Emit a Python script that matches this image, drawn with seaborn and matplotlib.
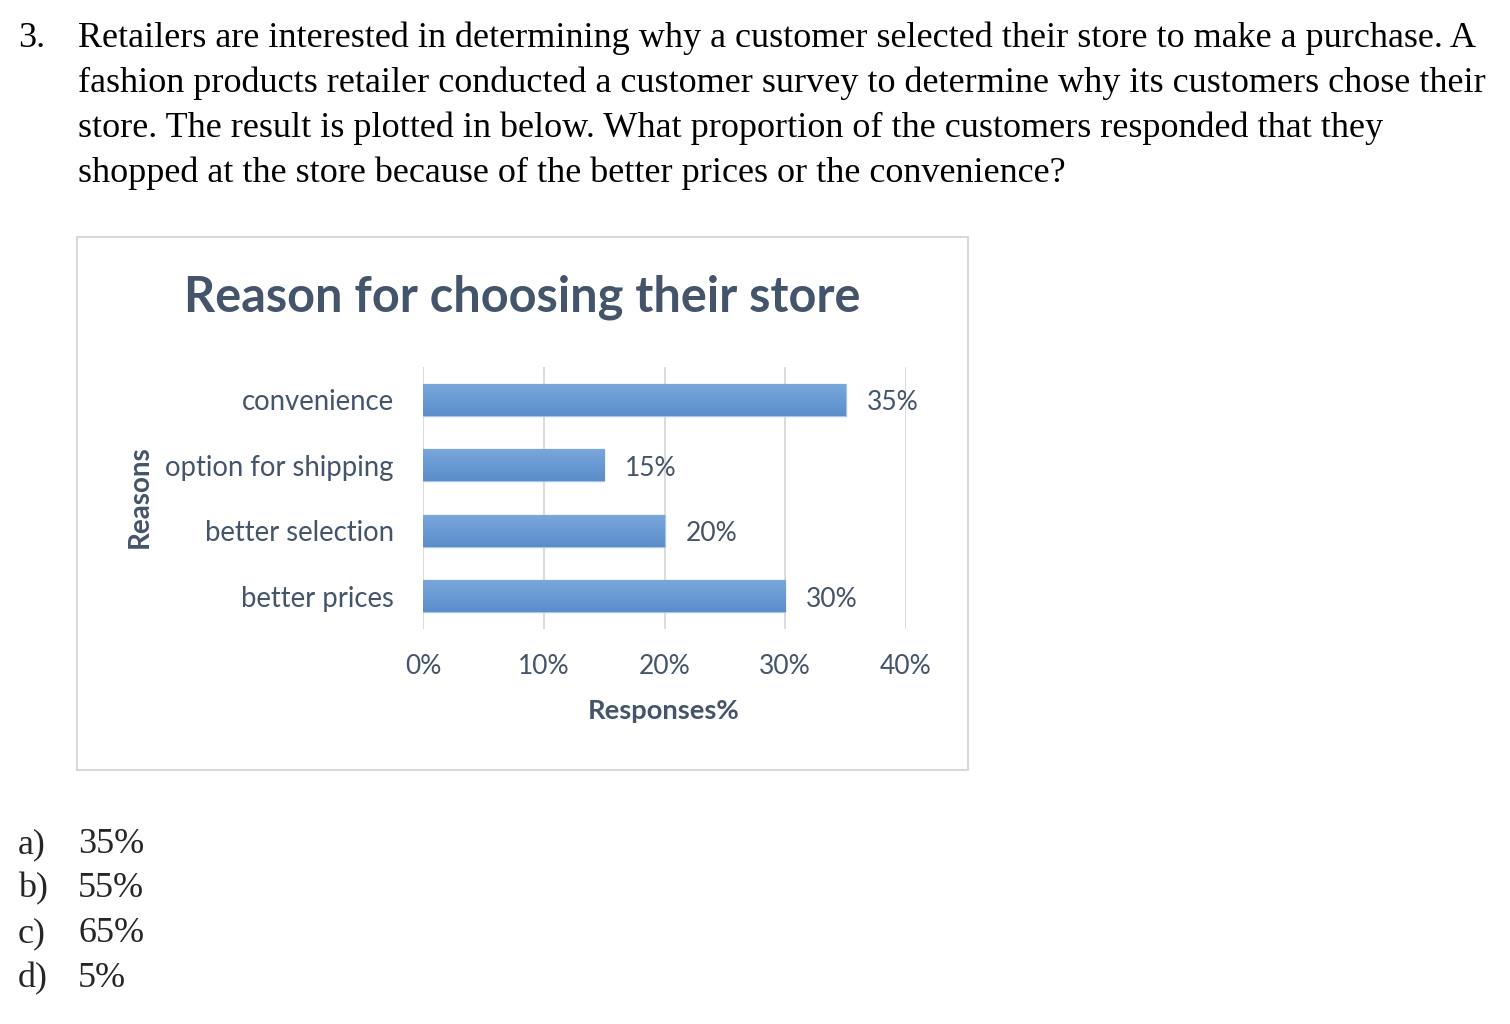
import matplotlib
matplotlib.use("Agg")
import matplotlib.pyplot as plt
import seaborn as sns
import pandas as pd
import numpy as np
from matplotlib.patches import Rectangle
from matplotlib.colors import LinearSegmentedColormap

# ---- data ----
reasons = ["convenience", "option for shipping", "better selection", "better prices"]
responses = [35, 15, 20, 30]
x_ticks = [0, 10, 20, 30, 40]
x_tick_labels = ["0%", "10%", "20%", "30%", "40%"]
question_number = "3."
question_lines = [
    "Retailers are interested in determining why a customer selected their store to make a purchase. A",
    "fashion products retailer conducted a customer survey to determine why its customers chose their",
    "store. The result is plotted in below. What proportion of the customers responded that they",
    "shopped at the store because of the better prices or the convenience?",
]
option_letters = ["a)", "b)", "c)", "d)"]
option_values = ["35%", "55%", "65%", "5%"]
chart_title = "Reason for choosing their store"
x_label = "Responses%"
y_label = "Reasons"

df = pd.DataFrame({"reason": reasons, "response": responses})

sns.set_theme(style="white")
plt.rcParams["font.family"] = ["Lato", "DejaVu Sans"]

W, H = 1510, 1024
fig = plt.figure(figsize=(W / 100, H / 100), dpi=100)

def fx(px):
    return px / W

def fy(py):
    return 1 - py / H

SLATE = "#44546a"
serif = ["Liberation Serif", "DejaVu Serif"]

# question text
q_size = 26
baselines = [47, 92, 137, 182]
fig.text(fx(18), fy(baselines[0]), question_number, fontsize=q_size, family=serif,
         va="baseline", ha="left", color="black")
for line, b in zip(question_lines, baselines):
    fig.text(fx(78), fy(b), line, fontsize=q_size, family=serif, va="baseline",
             ha="left", color="black")

# answer options
opt_baselines = [853, 897, 942, 987]
for letter, val, b in zip(option_letters, option_values, opt_baselines):
    fig.text(fx(18), fy(b), letter, fontsize=q_size, family=serif, va="baseline", ha="left")
    fig.text(fx(78), fy(b), val, fontsize=q_size, family=serif, va="baseline", ha="left")

# chart border
fig.patches.append(Rectangle((fx(77), fy(770)), fx(968) - fx(77), fy(237) - fy(770),
                             transform=fig.transFigure, fill=False,
                             edgecolor="#d9d9d9", linewidth=1.5))

# chart title
fig.text(fx(522), fy(312), chart_title, fontsize=35, fontweight="bold", color=SLATE,
         ha="center", va="baseline")

# axes
ax = fig.add_axes([fx(423), fy(629), fx(906) - fx(423), fy(367) - fy(629)])
sns.barplot(data=df, x="response", y="reason", orient="h", color="#6899d5",
            edgecolor="#a9c7ec", linewidth=1.0, width=0.49, ax=ax, saturation=1)
ax.set_xlim(0, 40)
ax.set_ylim(3.5, -0.5)

# vertical gradient fill inside each bar (Excel-style)
grad_cmap = LinearSegmentedColormap.from_list("bargrad", ["#7ba8dc", "#5a8dca"])
grad = np.linspace(0, 1, 64).reshape(-1, 1)
for p in list(ax.patches):
    x0, y0 = p.get_x(), p.get_y()
    w, h = p.get_width(), p.get_height()
    im = ax.imshow(grad, cmap=grad_cmap, aspect="auto", origin="upper",
                   extent=[x0, x0 + w, y0 + h, y0], zorder=p.get_zorder() + 0.1,
                   interpolation="bilinear")
    im.set_clip_path(p)
ax.set_xlim(0, 40)
ax.set_ylim(3.5, -0.5)

ax.set_xticks(x_ticks)
ax.set_xticklabels(x_tick_labels)
ax.grid(axis="x", color="#d9d9d9", linewidth=1.3)
ax.grid(axis="y", visible=False)
ax.set_axisbelow(True)
for s in ax.spines.values():
    s.set_visible(False)
ax.tick_params(axis="x", length=0, pad=18, labelsize=19, labelcolor=SLATE)
ax.tick_params(axis="y", length=0, pad=21, labelsize=19.8, labelcolor=SLATE)
ax.set_xlabel("")
ax.set_ylabel("")

for i, v in enumerate(responses):
    ax.annotate(f"{v}%", xy=(v, i), xytext=(15, -2), textcoords="offset points",
                va="center", ha="left", fontsize=19, color=SLATE)

fig.text(fx(664), fy(719), x_label, fontsize=19.7, fontweight="bold", color=SLATE,
         ha="center", va="baseline")
fig.text(fx(140), fy(497), y_label, fontsize=20, fontweight="bold", color=SLATE,
         ha="center", va="center", rotation=90)

fig.savefig("out.png", dpi=100, facecolor="white")
